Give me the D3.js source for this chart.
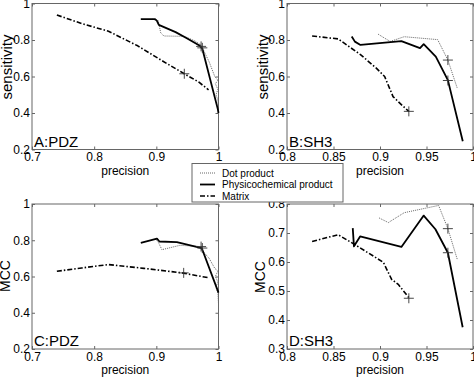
<!DOCTYPE html>
<html>
<head>
<meta charset="utf-8">
<script src="https://cdn.jsdelivr.net/npm/d3@7"></script>
<style>
  body { margin: 0; background: #fff; }
  svg { display: block; font-family: "Liberation Sans", Arial, sans-serif; }
</style>
</head>
<body>
<div id="chart"></div>
<script>
// values: [precision, sensitivity or MCC]
const pdzSensDot    = [[0.893,0.914],[0.903,0.906],[0.907,0.84],[0.912,0.822],[0.945,0.82],[0.962,0.795],[0.972,0.772],[0.985,0.68],[0.994,0.6],[0.999,0.58],[0.995,0.56],[0.999,0.53],[0.996,0.5],[0.999,0.47],[1.0,0.4],[1.0,0.2]];
const pdzSensPhys   = [[0.875,0.914],[0.898,0.914],[0.901,0.905],[0.904,0.883],[0.931,0.843],[0.949,0.81],[0.97,0.768],[0.974,0.752],[0.999,0.42],[1.0,0.40]];
const pdzSensMatrix = [[0.74,0.937],[0.78,0.89],[0.823,0.848],[0.87,0.768],[0.91,0.685],[0.945,0.615],[0.968,0.57],[0.984,0.527]];
const pdzSensMarks  = [[0.972,0.765],[0.974,0.757],[0.945,0.615]];

const sh3SensDot    = [[0.898,0.832],[0.905,0.81],[0.911,0.792],[0.926,0.818],[0.962,0.802],[0.973,0.69],[0.983,0.537]];
const sh3SensPhys   = [[0.8696,0.819],[0.873,0.791],[0.879,0.773],[0.923,0.794],[0.943,0.755],[0.947,0.777],[0.96,0.709],[0.973,0.58],[0.989,0.245]];
const sh3SensMatrix = [[0.827,0.822],[0.855,0.806],[0.879,0.72],[0.896,0.646],[0.905,0.6],[0.914,0.49],[0.925,0.436],[0.931,0.409]];
const sh3SensMarks  = [[0.973,0.69],[0.973,0.578],[0.931,0.409]];

const pdzMccDot     = [[0.898,0.807],[0.903,0.79],[0.909,0.748],[0.938,0.772],[0.968,0.766],[0.985,0.7],[0.994,0.645],[0.999,0.63],[0.995,0.6],[0.999,0.57],[0.996,0.54],[0.999,0.51],[1.0,0.45]];
const pdzMccPhys    = [[0.875,0.785],[0.901,0.809],[0.905,0.793],[0.933,0.79],[0.973,0.757],[1.0,0.511]];
const pdzMccMatrix  = [[0.74,0.629],[0.78,0.647],[0.823,0.666],[0.88,0.645],[0.941,0.62],[0.984,0.593]];
const pdzMccMarks   = [[0.972,0.765],[0.974,0.757],[0.944,0.62]];

const sh3MccDot     = [[0.899,0.752],[0.909,0.736],[0.926,0.77],[0.963,0.795],[0.973,0.715],[0.983,0.61]];
const sh3MccPhys    = [[0.8707,0.717],[0.872,0.654],[0.8786,0.688],[0.923,0.652],[0.947,0.76],[0.9596,0.713],[0.973,0.632],[0.9889,0.375]];
const sh3MccMatrix  = [[0.827,0.671],[0.855,0.694],[0.873,0.66],[0.9036,0.599],[0.9125,0.54],[0.9196,0.523],[0.931,0.477]];
const sh3MccMarks   = [[0.973,0.715],[0.973,0.632],[0.931,0.475]];

const pdzPrecTicks = [0.7, 0.8, 0.9, 1];
const sh3PrecTicks = [0.8, 0.85, 0.9, 0.95, 1];
const sensTicks    = [0.2, 0.4, 0.6, 0.8, 1];
const sh3MccTicks  = [0.3, 0.4, 0.5, 0.6, 0.7, 0.8];

const legendLabels = ["Dot product", "Physicochemical product", "Matrix"];

// line styles for dot / physicochemical / matrix
const styles = [
  { stroke: "#666", width: 1, dash: "1,1" },
  { stroke: "#000", width: 1.8, dash: null },
  { stroke: "#000", width: 1.6, dash: "5,2,1.5,2" }
];

const W = 474, H = 379;
const svg = d3.select("#chart").append("svg")
  .attr("width", W)
  .attr("height", H);

function drawPanel(p) {
  const x = d3.scaleLinear().domain(p.xDomain).range([p.left, p.right]);
  const y = d3.scaleLinear().domain(p.yDomain).range([p.bottom, p.top]);
  const g = svg.append("g");

  // bottom axis (labels) and top axis (ticks only), ticks pointing inward
  g.append("g")
    .attr("transform", `translate(0,${p.bottom})`)
    .call(d3.axisBottom(x).tickValues(p.xTicks).tickSize(-3).tickPadding(3).tickFormat(d => String(d)));
  g.append("g")
    .attr("transform", `translate(0,${p.top})`)
    .call(d3.axisTop(x).tickValues(p.xTicks).tickSize(-3).tickFormat(""));
  g.append("g")
    .attr("transform", `translate(${p.left},0)`)
    .call(d3.axisLeft(y).tickValues(p.yTicks).tickSize(-3).tickPadding(2).tickFormat(d => String(d)));
  g.append("g")
    .attr("transform", `translate(${p.right},0)`)
    .call(d3.axisRight(y).tickValues(p.yTicks).tickSize(-3).tickFormat(""));

  g.selectAll(".domain").remove();
  g.selectAll(".tick line").attr("stroke", "#666");
  g.selectAll(".tick text").attr("fill", "#000").attr("font-size", 12)
    .attr("font-family", "Liberation Sans, Arial, sans-serif");

  g.append("rect")
    .attr("x", p.left).attr("y", p.top)
    .attr("width", p.right - p.left).attr("height", p.bottom - p.top)
    .attr("fill", "none").attr("stroke", "#666");

  const line = d3.line().x(d => x(d[0])).y(d => y(d[1]));
  p.series.forEach((s, i) => {
    g.append("path")
      .datum(s)
      .attr("fill", "none")
      .attr("stroke", styles[i].stroke)
      .attr("stroke-width", styles[i].width)
      .attr("stroke-dasharray", styles[i].dash)
      .attr("stroke-linejoin", "round")
      .attr("d", line);
  });

  // + markers
  g.selectAll(".mark")
    .data(p.marks)
    .join("path")
    .attr("fill", "none")
    .attr("stroke", "#333")
    .attr("stroke-width", 0.9)
    .attr("d", d => `M${x(d[0]) - 5},${y(d[1])}h10M${x(d[0])},${y(d[1]) - 5}v10`);

  g.append("text")
    .attr("x", (p.left + p.right) / 2)
    .attr("y", p.bottom + 25)
    .attr("text-anchor", "middle")
    .attr("font-size", 12)
    .text("precision");

  g.append("text")
    .attr("transform", `translate(${p.left - p.yLabelGap},${p.yLabelMid}) rotate(-90)`)
    .attr("text-anchor", "middle")
    .attr("font-size", p.yLabelSize)
    .text(p.yLabel);

  g.append("text")
    .attr("x", p.left + 2)
    .attr("y", p.bottom - 3)
    .attr("font-size", 15)
    .text(p.name);
}

drawPanel({
  left: 32, right: 218.5, top: 3.5, bottom: 149.5,
  xDomain: [0.7, 1], yDomain: [0.2, 1], xTicks: pdzPrecTicks, yTicks: sensTicks,
  series: [pdzSensDot, pdzSensPhys, pdzSensMatrix], marks: pdzSensMarks,
  yLabel: "sensitivity", yLabelSize: 15, yLabelGap: 20, yLabelMid: 67, name: "A:PDZ"
});
drawPanel({
  left: 287, right: 473, top: 3.5, bottom: 149.5,
  xDomain: [0.8, 1], yDomain: [0.2, 1], xTicks: sh3PrecTicks, yTicks: sensTicks,
  series: [sh3SensDot, sh3SensPhys, sh3SensMatrix], marks: sh3SensMarks,
  yLabel: "sensitivity", yLabelSize: 15, yLabelGap: 19, yLabelMid: 67, name: "B:SH3"
});
drawPanel({
  left: 32, right: 218.5, top: 204, bottom: 349,
  xDomain: [0.7, 1], yDomain: [0.2, 1], xTicks: pdzPrecTicks, yTicks: sensTicks,
  series: [pdzMccDot, pdzMccPhys, pdzMccMatrix], marks: pdzMccMarks,
  yLabel: "MCC", yLabelSize: 14, yLabelGap: 22, yLabelMid: 276, name: "C:PDZ"
});
drawPanel({
  left: 287, right: 473, top: 204, bottom: 349,
  xDomain: [0.8, 1], yDomain: [0.3, 0.8], xTicks: sh3PrecTicks, yTicks: sh3MccTicks,
  series: [sh3MccDot, sh3MccPhys, sh3MccMatrix], marks: sh3MccMarks,
  yLabel: "MCC", yLabelSize: 14, yLabelGap: 22, yLabelMid: 277, name: "D:SH3"
});

// legend box in the middle
const legend = svg.append("g");
legend.append("rect")
  .attr("x", 192).attr("y", 163.5)
  .attr("width", 151).attr("height", 38.5)
  .attr("fill", "#fff").attr("stroke", "#666");
legendLabels.forEach((label, i) => {
  const ly = 173 + i * 11.5;
  legend.append("line")
    .attr("x1", 200).attr("x2", 215)
    .attr("y1", ly).attr("y2", ly)
    .attr("stroke", styles[i].stroke)
    .attr("stroke-width", styles[i].width)
    .attr("stroke-dasharray", styles[i].dash);
  legend.append("text")
    .attr("x", 222).attr("y", ly + 3.5)
    .attr("font-size", 10)
    .text(label);
});
</script>
</body>
</html>
